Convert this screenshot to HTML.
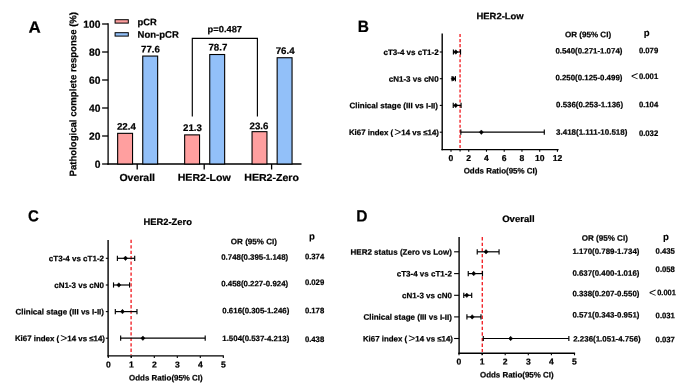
<!DOCTYPE html>
<html lang="en">
<head>
<meta charset="utf-8">
<title>Pathological complete response and odds ratios</title>
<style>
html,body{margin:0;padding:0;background:#fff;}
body{width:685px;height:386px;overflow:hidden;}
svg{display:block;}
svg text{font-family:"Liberation Sans",sans-serif;font-weight:bold;fill:#000;stroke:#000;stroke-width:0.22px;stroke-linejoin:round;text-rendering:geometricPrecision;}
</style>
</head>
<body>
<svg width="685" height="386" viewBox="0 0 685 386">
<rect x="0" y="0" width="685" height="386" fill="#fff"/>
<text x="28.4" y="32.8" transform="rotate(0.05 28.4 32.8)" font-size="16.4" textLength="12.31" lengthAdjust="spacingAndGlyphs">A</text>
<line x1="108.1" y1="23.35" x2="108.1" y2="164.65" stroke="#000" stroke-width="1.3"/>
<line x1="107.44999999999999" y1="164.0" x2="301.5" y2="164.0" stroke="#000" stroke-width="1.3"/>
<line x1="102.1" y1="164.0" x2="108.1" y2="164.0" stroke="#000" stroke-width="1.3"/>
<text x="100.4" y="167.7" transform="rotate(0.05 100.4 167.7)" font-size="10.3" text-anchor="end">0</text>
<line x1="102.1" y1="136.0" x2="108.1" y2="136.0" stroke="#000" stroke-width="1.3"/>
<text x="100.4" y="139.7" transform="rotate(0.05 100.4 139.7)" font-size="10.3" text-anchor="end">20</text>
<line x1="102.1" y1="108.0" x2="108.1" y2="108.0" stroke="#000" stroke-width="1.3"/>
<text x="100.4" y="111.7" transform="rotate(0.05 100.4 111.7)" font-size="10.3" text-anchor="end">40</text>
<line x1="102.1" y1="80.0" x2="108.1" y2="80.0" stroke="#000" stroke-width="1.3"/>
<text x="100.4" y="83.7" transform="rotate(0.05 100.4 83.7)" font-size="10.3" text-anchor="end">60</text>
<line x1="102.1" y1="52.0" x2="108.1" y2="52.0" stroke="#000" stroke-width="1.3"/>
<text x="100.4" y="55.7" transform="rotate(0.05 100.4 55.7)" font-size="10.3" text-anchor="end">80</text>
<line x1="102.1" y1="24.0" x2="108.1" y2="24.0" stroke="#000" stroke-width="1.3"/>
<text x="100.4" y="27.7" transform="rotate(0.05 100.4 27.7)" font-size="10.3" text-anchor="end">100</text>
<text transform="translate(76.3,94.2) rotate(-89.95)" font-size="9.5" text-anchor="middle" textLength="164.5" lengthAdjust="spacingAndGlyphs">Pathological complete response (%)</text>
<rect x="115.1" y="19.7" width="13.2" height="3.4" fill="#FF9F9F" stroke="#000" stroke-width="1"/>
<rect x="115.1" y="32.7" width="13.2" height="3.4" fill="#92C0F9" stroke="#000" stroke-width="1"/>
<text x="137.6" y="25.2" transform="rotate(0.05 137.6 25.2)" font-size="9.4">pCR</text>
<text x="137.6" y="37.8" transform="rotate(0.05 137.6 37.8)" font-size="9.5">Non-pCR</text>
<line x1="137.2" y1="164.0" x2="137.2" y2="169.5" stroke="#000" stroke-width="1.3"/>
<text x="137.2" y="180.9" transform="rotate(0.05 137.2 180.9)" font-size="10.2" text-anchor="middle" textLength="35.6" lengthAdjust="spacingAndGlyphs">Overall</text>
<rect x="117.65" y="133.34" width="14.9" height="30.66" fill="#FF9F9F" stroke="#000" stroke-width="1.1"/>
<text x="126.4" y="129.7" transform="rotate(0.05 126.4 129.7)" font-size="9.6" text-anchor="middle" textLength="18.9" lengthAdjust="spacingAndGlyphs">22.4</text>
<rect x="142.75" y="56.06" width="14.9" height="107.94" fill="#92C0F9" stroke="#000" stroke-width="1.1"/>
<text x="150.5" y="52.5" transform="rotate(0.05 150.5 52.5)" font-size="9.6" text-anchor="middle" textLength="18.9" lengthAdjust="spacingAndGlyphs">77.6</text>
<line x1="204.2" y1="164.0" x2="204.2" y2="169.5" stroke="#000" stroke-width="1.3"/>
<text x="204.2" y="180.9" transform="rotate(0.05 204.2 180.9)" font-size="10.2" text-anchor="middle" textLength="53.0" lengthAdjust="spacingAndGlyphs">HER2-Low</text>
<rect x="184.65" y="134.88" width="14.9" height="29.12" fill="#FF9F9F" stroke="#000" stroke-width="1.1"/>
<text x="192.5" y="130.9" transform="rotate(0.05 192.5 130.9)" font-size="9.6" text-anchor="middle" textLength="18.9" lengthAdjust="spacingAndGlyphs">21.3</text>
<rect x="209.75" y="54.52" width="14.9" height="109.48" fill="#92C0F9" stroke="#000" stroke-width="1.1"/>
<text x="217.9" y="50.4" transform="rotate(0.05 217.9 50.4)" font-size="9.6" text-anchor="middle" textLength="18.9" lengthAdjust="spacingAndGlyphs">78.7</text>
<line x1="271.6" y1="164.0" x2="271.6" y2="169.5" stroke="#000" stroke-width="1.3"/>
<text x="271.6" y="180.9" transform="rotate(0.05 271.6 180.9)" font-size="10.2" text-anchor="middle" textLength="54.6" lengthAdjust="spacingAndGlyphs">HER2-Zero</text>
<rect x="252.05" y="131.66" width="14.9" height="32.34" fill="#FF9F9F" stroke="#000" stroke-width="1.1"/>
<text x="259.0" y="129.2" transform="rotate(0.05 259.0 129.2)" font-size="9.6" text-anchor="middle" textLength="18.9" lengthAdjust="spacingAndGlyphs">23.6</text>
<rect x="277.15" y="57.74" width="14.9" height="106.26" fill="#92C0F9" stroke="#000" stroke-width="1.1"/>
<text x="285.1" y="53.9" transform="rotate(0.05 285.1 53.9)" font-size="9.6" text-anchor="middle" textLength="18.9" lengthAdjust="spacingAndGlyphs">76.4</text>
<path d="M192.3 116.6 V38.3 H257.4 V116.6" fill="none" stroke="#000" stroke-width="1.15"/>
<text x="224.8" y="32.2" transform="rotate(0.05 224.8 32.2)" font-size="9" text-anchor="middle" textLength="34.4" lengthAdjust="spacingAndGlyphs">p=0.487</text>
<text x="357.7" y="32.1" transform="rotate(0.05 357.7 32.1)" font-size="16.4" textLength="11.19" lengthAdjust="spacingAndGlyphs">B</text>
<text x="500.1" y="19.2" transform="rotate(0.05 500.1 19.2)" font-size="9.3" text-anchor="middle" textLength="47.2" lengthAdjust="spacingAndGlyphs">HER2-Low</text>
<line x1="442.2" y1="33.4" x2="442.2" y2="150.29999999999998" stroke="#000" stroke-width="1.4"/>
<line x1="441.5" y1="149.6" x2="558.6" y2="149.6" stroke="#000" stroke-width="1.4"/>
<line x1="451.0" y1="149.6" x2="451.0" y2="151.7" stroke="#000" stroke-width="1.1"/>
<text x="451.0" y="161.0" transform="rotate(0.05 451.0 161.0)" font-size="8.6" text-anchor="middle">0</text>
<line x1="468.74" y1="149.6" x2="468.74" y2="151.7" stroke="#000" stroke-width="1.1"/>
<text x="468.74" y="161.0" transform="rotate(0.05 468.74 161.0)" font-size="8.6" text-anchor="middle">2</text>
<line x1="486.48" y1="149.6" x2="486.48" y2="151.7" stroke="#000" stroke-width="1.1"/>
<text x="486.48" y="161.0" transform="rotate(0.05 486.48 161.0)" font-size="8.6" text-anchor="middle">4</text>
<line x1="504.22" y1="149.6" x2="504.22" y2="151.7" stroke="#000" stroke-width="1.1"/>
<text x="504.22" y="161.0" transform="rotate(0.05 504.22 161.0)" font-size="8.6" text-anchor="middle">6</text>
<line x1="521.96" y1="149.6" x2="521.96" y2="151.7" stroke="#000" stroke-width="1.1"/>
<text x="521.96" y="161.0" transform="rotate(0.05 521.96 161.0)" font-size="8.6" text-anchor="middle">8</text>
<line x1="539.7" y1="149.6" x2="539.7" y2="151.7" stroke="#000" stroke-width="1.1"/>
<text x="539.7" y="161.0" transform="rotate(0.05 539.7 161.0)" font-size="8.6" text-anchor="middle">10</text>
<line x1="557.44" y1="149.6" x2="557.44" y2="151.7" stroke="#000" stroke-width="1.1"/>
<text x="557.44" y="161.0" transform="rotate(0.05 557.44 161.0)" font-size="8.6" text-anchor="middle">12</text>
<line x1="460.07" y1="149.6" x2="460.07" y2="151.4" stroke="#000" stroke-width="1.1"/>
<text x="500.5" y="173.6" transform="rotate(0.05 500.5 173.6)" font-size="8" text-anchor="middle" textLength="73.6" lengthAdjust="spacingAndGlyphs">Odds Ratio(95% CI)</text>
<line x1="460.07" y1="34.0" x2="460.07" y2="148.4" stroke="#F2262B" stroke-width="1.4" stroke-dasharray="3.1 1.94"/>
<text x="588.0" y="37.2" transform="rotate(0.05 588.0 37.2)" font-size="8" text-anchor="middle" textLength="46.2" lengthAdjust="spacingAndGlyphs">OR (95% CI)</text>
<text x="646.7" y="36.1" transform="rotate(0.05 646.7 36.1)" font-size="9.6" text-anchor="middle" style="stroke-width:0.1px">p</text>
<line x1="439.8" y1="52.0" x2="442.2" y2="52.0" stroke="#000" stroke-width="1.1"/>
<text x="438.6" y="55.0" transform="rotate(0.05 438.6 55.0)" font-size="8.0" text-anchor="end">cT3-4 vs cT1-2</text>
<line x1="453.4" y1="52.0" x2="460.53" y2="52.0" stroke="#000" stroke-width="1.2"/>
<line x1="453.4" y1="49.4" x2="453.4" y2="54.6" stroke="#000" stroke-width="1.15"/>
<line x1="460.53" y1="49.4" x2="460.53" y2="54.6" stroke="#000" stroke-width="1.15"/>
<path d="M453.74 52.0 L455.79 49.75 L457.84 52.0 L455.79 54.25 Z" fill="#000" stroke="#000" stroke-width="0.5" stroke-linejoin="round"/>
<text x="555.4" y="53.4" transform="rotate(0.05 555.4 53.4)" font-size="7.8" textLength="67" lengthAdjust="spacingAndGlyphs" style="stroke-width:0.2px">0.540(0.271-1.074)</text>
<text x="638.9" y="53.2" transform="rotate(0.05 638.9 53.2)" font-size="8.0" textLength="19.3" lengthAdjust="spacingAndGlyphs">0.079</text>
<line x1="439.8" y1="78.7" x2="442.2" y2="78.7" stroke="#000" stroke-width="1.1"/>
<text x="438.6" y="81.7" transform="rotate(0.05 438.6 81.7)" font-size="8.0" text-anchor="end">cN1-3 vs cN0</text>
<line x1="452.11" y1="78.7" x2="455.43" y2="78.7" stroke="#000" stroke-width="1.2"/>
<line x1="452.11" y1="76.10000000000001" x2="452.11" y2="81.3" stroke="#000" stroke-width="1.15"/>
<line x1="455.43" y1="76.10000000000001" x2="455.43" y2="81.3" stroke="#000" stroke-width="1.15"/>
<path d="M451.17 78.7 L453.22 76.45 L455.27 78.7 L453.22 80.95 Z" fill="#000" stroke="#000" stroke-width="0.5" stroke-linejoin="round"/>
<text x="555.4" y="80.2" transform="rotate(0.05 555.4 80.2)" font-size="7.8" textLength="67" lengthAdjust="spacingAndGlyphs" style="stroke-width:0.2px">0.250(0.125-0.499)</text>
<text x="631.0" y="80.3" transform="rotate(0.05 631.0 80.3)" font-size="12.4" style="font-weight:normal;stroke-width:0">&lt;</text>
<text x="638.9" y="79.0" transform="rotate(0.05 638.9 79.0)" font-size="8.0" textLength="19.3" lengthAdjust="spacingAndGlyphs">0.001</text>
<line x1="439.8" y1="105.4" x2="442.2" y2="105.4" stroke="#000" stroke-width="1.1"/>
<text x="438.0" y="108.4" transform="rotate(0.05 438.0 108.4)" font-size="8.0" text-anchor="end">Clinical stage (III vs I-II)</text>
<line x1="453.24" y1="105.4" x2="461.08" y2="105.4" stroke="#000" stroke-width="1.2"/>
<line x1="453.24" y1="102.80000000000001" x2="453.24" y2="108.0" stroke="#000" stroke-width="1.15"/>
<line x1="461.08" y1="102.80000000000001" x2="461.08" y2="108.0" stroke="#000" stroke-width="1.15"/>
<path d="M453.70 105.4 L455.75 103.15 L457.80 105.4 L455.75 107.65 Z" fill="#000" stroke="#000" stroke-width="0.5" stroke-linejoin="round"/>
<text x="556.1" y="107.3" transform="rotate(0.05 556.1 107.3)" font-size="7.8" textLength="67" lengthAdjust="spacingAndGlyphs" style="stroke-width:0.2px">0.536(0.253-1.136)</text>
<text x="638.9" y="107.3" transform="rotate(0.05 638.9 107.3)" font-size="8.0" textLength="19.3" lengthAdjust="spacingAndGlyphs">0.104</text>
<line x1="439.8" y1="132.2" x2="442.2" y2="132.2" stroke="#000" stroke-width="1.1"/>
<text x="439.0" y="135.2" transform="rotate(0.05 439.0 135.2)" font-size="7.9" text-anchor="end">Ki67 index (<tspan font-weight="normal" font-size="12" dx="1.0" dy="0.8" stroke-width="0">&gt;</tspan><tspan dx="0.1" dy="-0.8">14 vs ≤14)</tspan></text>
<line x1="460.85" y1="132.2" x2="544.29" y2="132.2" stroke="#000" stroke-width="1.2"/>
<line x1="460.85" y1="129.6" x2="460.85" y2="134.79999999999998" stroke="#000" stroke-width="1.15"/>
<line x1="544.29" y1="129.6" x2="544.29" y2="134.79999999999998" stroke="#000" stroke-width="1.15"/>
<path d="M479.27 132.2 L481.32 129.95 L483.37 132.2 L481.32 134.45 Z" fill="#000" stroke="#000" stroke-width="0.5" stroke-linejoin="round"/>
<text x="556.1" y="134.8" transform="rotate(0.05 556.1 134.8)" font-size="7.8" textLength="71.3" lengthAdjust="spacingAndGlyphs" style="stroke-width:0.2px">3.418(1.111-10.518)</text>
<text x="638.9" y="136.0" transform="rotate(0.05 638.9 136.0)" font-size="8.0" textLength="19.3" lengthAdjust="spacingAndGlyphs">0.032</text>
<text x="28.1" y="221.2" transform="rotate(0.05 28.1 221.2)" font-size="15.9" textLength="10.85" lengthAdjust="spacingAndGlyphs">C</text>
<text x="167.7" y="225.0" transform="rotate(0.05 167.7 225.0)" font-size="9.3" text-anchor="middle" textLength="48.4" lengthAdjust="spacingAndGlyphs">HER2-Zero</text>
<line x1="108.1" y1="240.0" x2="108.1" y2="356.59999999999997" stroke="#000" stroke-width="1.4"/>
<line x1="107.39999999999999" y1="355.9" x2="223.9" y2="355.9" stroke="#000" stroke-width="1.4"/>
<line x1="108.3" y1="355.9" x2="108.3" y2="358.0" stroke="#000" stroke-width="1.1"/>
<text x="108.3" y="367.4" transform="rotate(0.05 108.3 367.4)" font-size="8.6" text-anchor="middle">0</text>
<line x1="131.3" y1="355.9" x2="131.3" y2="358.0" stroke="#000" stroke-width="1.1"/>
<text x="131.3" y="367.4" transform="rotate(0.05 131.3 367.4)" font-size="8.6" text-anchor="middle">1</text>
<line x1="154.3" y1="355.9" x2="154.3" y2="358.0" stroke="#000" stroke-width="1.1"/>
<text x="154.3" y="367.4" transform="rotate(0.05 154.3 367.4)" font-size="8.6" text-anchor="middle">2</text>
<line x1="177.3" y1="355.9" x2="177.3" y2="358.0" stroke="#000" stroke-width="1.1"/>
<text x="177.3" y="367.4" transform="rotate(0.05 177.3 367.4)" font-size="8.6" text-anchor="middle">3</text>
<line x1="200.3" y1="355.9" x2="200.3" y2="358.0" stroke="#000" stroke-width="1.1"/>
<text x="200.3" y="367.4" transform="rotate(0.05 200.3 367.4)" font-size="8.6" text-anchor="middle">4</text>
<line x1="223.3" y1="355.9" x2="223.3" y2="358.0" stroke="#000" stroke-width="1.1"/>
<text x="223.3" y="367.4" transform="rotate(0.05 223.3 367.4)" font-size="8.6" text-anchor="middle">5</text>
<line x1="131.1" y1="355.9" x2="131.1" y2="357.7" stroke="#000" stroke-width="1.1"/>
<text x="165.9" y="380.6" transform="rotate(0.05 165.9 380.6)" font-size="8" text-anchor="middle" textLength="73.6" lengthAdjust="spacingAndGlyphs">Odds Ratio(95% CI)</text>
<line x1="131.1" y1="239.8" x2="131.1" y2="354.7" stroke="#F2262B" stroke-width="1.4" stroke-dasharray="3.3 2.14"/>
<text x="253.9" y="244.3" transform="rotate(0.05 253.9 244.3)" font-size="8" text-anchor="middle" textLength="46.2" lengthAdjust="spacingAndGlyphs">OR (95% CI)</text>
<text x="312.0" y="239.6" transform="rotate(0.05 312.0 239.6)" font-size="9.6" text-anchor="middle" style="stroke-width:0.1px">p</text>
<line x1="105.8" y1="258.3" x2="108.1" y2="258.3" stroke="#000" stroke-width="1.1"/>
<text x="104.0" y="261.3" transform="rotate(0.05 104.0 261.3)" font-size="8.0" text-anchor="end">cT3-4 vs cT1-2</text>
<line x1="117.38" y1="258.3" x2="134.7" y2="258.3" stroke="#000" stroke-width="1.2"/>
<line x1="117.38" y1="255.70000000000002" x2="117.38" y2="260.90000000000003" stroke="#000" stroke-width="1.15"/>
<line x1="134.7" y1="255.70000000000002" x2="134.7" y2="260.90000000000003" stroke="#000" stroke-width="1.15"/>
<path d="M123.45 258.3 L125.50 256.05 L127.55 258.3 L125.50 260.55 Z" fill="#000" stroke="#000" stroke-width="0.5" stroke-linejoin="round"/>
<text x="221.2" y="259.8" transform="rotate(0.05 221.2 259.8)" font-size="7.8" textLength="67" lengthAdjust="spacingAndGlyphs" style="stroke-width:0.2px">0.748(0.395-1.148)</text>
<text x="304.9" y="259.3" transform="rotate(0.05 304.9 259.3)" font-size="8.0" textLength="19.3" lengthAdjust="spacingAndGlyphs">0.374</text>
<line x1="105.8" y1="285.0" x2="108.1" y2="285.0" stroke="#000" stroke-width="1.1"/>
<text x="104.0" y="288.0" transform="rotate(0.05 104.0 288.0)" font-size="8.0" text-anchor="end">cN1-3 vs cN0</text>
<line x1="113.52" y1="285.0" x2="129.55" y2="285.0" stroke="#000" stroke-width="1.2"/>
<line x1="113.52" y1="282.4" x2="113.52" y2="287.6" stroke="#000" stroke-width="1.15"/>
<line x1="129.55" y1="282.4" x2="129.55" y2="287.6" stroke="#000" stroke-width="1.15"/>
<path d="M116.78 285.0 L118.83 282.75 L120.88 285.0 L118.83 287.25 Z" fill="#000" stroke="#000" stroke-width="0.5" stroke-linejoin="round"/>
<text x="221.2" y="286.3" transform="rotate(0.05 221.2 286.3)" font-size="7.8" textLength="67" lengthAdjust="spacingAndGlyphs" style="stroke-width:0.2px">0.458(0.227-0.924)</text>
<text x="304.9" y="284.9" transform="rotate(0.05 304.9 284.9)" font-size="8.0" textLength="19.3" lengthAdjust="spacingAndGlyphs">0.029</text>
<line x1="105.8" y1="311.6" x2="108.1" y2="311.6" stroke="#000" stroke-width="1.1"/>
<text x="104.0" y="314.6" transform="rotate(0.05 104.0 314.6)" font-size="8.0" text-anchor="end">Clinical stage (III vs I-II)</text>
<line x1="115.31" y1="311.6" x2="136.96" y2="311.6" stroke="#000" stroke-width="1.2"/>
<line x1="115.31" y1="309.0" x2="115.31" y2="314.20000000000005" stroke="#000" stroke-width="1.15"/>
<line x1="136.96" y1="309.0" x2="136.96" y2="314.20000000000005" stroke="#000" stroke-width="1.15"/>
<path d="M120.42 311.6 L122.47 309.35 L124.52 311.6 L122.47 313.85 Z" fill="#000" stroke="#000" stroke-width="0.5" stroke-linejoin="round"/>
<text x="222.3" y="313.2" transform="rotate(0.05 222.3 313.2)" font-size="7.8" textLength="67" lengthAdjust="spacingAndGlyphs" style="stroke-width:0.2px">0.616(0.305-1.246)</text>
<text x="304.9" y="313.2" transform="rotate(0.05 304.9 313.2)" font-size="8.0" textLength="19.3" lengthAdjust="spacingAndGlyphs">0.178</text>
<line x1="105.8" y1="338.2" x2="108.1" y2="338.2" stroke="#000" stroke-width="1.1"/>
<text x="105.0" y="341.2" transform="rotate(0.05 105.0 341.2)" font-size="7.9" text-anchor="end">Ki67 index (<tspan font-weight="normal" font-size="12" dx="1.0" dy="0.8" stroke-width="0">&gt;</tspan><tspan dx="0.1" dy="-0.8">14 vs ≤14)</tspan></text>
<line x1="120.65" y1="338.2" x2="205.2" y2="338.2" stroke="#000" stroke-width="1.2"/>
<line x1="120.65" y1="335.59999999999997" x2="120.65" y2="340.8" stroke="#000" stroke-width="1.15"/>
<line x1="205.2" y1="335.59999999999997" x2="205.2" y2="340.8" stroke="#000" stroke-width="1.15"/>
<path d="M140.84 338.2 L142.89 335.95 L144.94 338.2 L142.89 340.45 Z" fill="#000" stroke="#000" stroke-width="0.5" stroke-linejoin="round"/>
<text x="222.3" y="341.1" transform="rotate(0.05 222.3 341.1)" font-size="7.8" textLength="67" lengthAdjust="spacingAndGlyphs" style="stroke-width:0.2px">1.504(0.537-4.213)</text>
<text x="304.9" y="342.0" transform="rotate(0.05 304.9 342.0)" font-size="8.0" textLength="19.3" lengthAdjust="spacingAndGlyphs">0.438</text>
<text x="356.25" y="221.5" transform="rotate(0.05 356.25 221.5)" font-size="16.3" textLength="11.19" lengthAdjust="spacingAndGlyphs">D</text>
<text x="518.4" y="222.0" transform="rotate(0.05 518.4 222.0)" font-size="9.3" text-anchor="middle" textLength="32.4" lengthAdjust="spacingAndGlyphs">Overall</text>
<line x1="459.1" y1="237.0" x2="459.1" y2="353.9" stroke="#000" stroke-width="1.4"/>
<line x1="458.40000000000003" y1="353.2" x2="575.1" y2="353.2" stroke="#000" stroke-width="1.4"/>
<line x1="459.0" y1="353.2" x2="459.0" y2="355.3" stroke="#000" stroke-width="1.1"/>
<text x="459.0" y="364.5" transform="rotate(0.05 459.0 364.5)" font-size="8.6" text-anchor="middle">0</text>
<line x1="482.1" y1="353.2" x2="482.1" y2="355.3" stroke="#000" stroke-width="1.1"/>
<text x="482.1" y="364.5" transform="rotate(0.05 482.1 364.5)" font-size="8.6" text-anchor="middle">1</text>
<line x1="505.2" y1="353.2" x2="505.2" y2="355.3" stroke="#000" stroke-width="1.1"/>
<text x="505.2" y="364.5" transform="rotate(0.05 505.2 364.5)" font-size="8.6" text-anchor="middle">2</text>
<line x1="528.3" y1="353.2" x2="528.3" y2="355.3" stroke="#000" stroke-width="1.1"/>
<text x="528.3" y="364.5" transform="rotate(0.05 528.3 364.5)" font-size="8.6" text-anchor="middle">3</text>
<line x1="551.4" y1="353.2" x2="551.4" y2="355.3" stroke="#000" stroke-width="1.1"/>
<text x="551.4" y="364.5" transform="rotate(0.05 551.4 364.5)" font-size="8.6" text-anchor="middle">4</text>
<line x1="574.5" y1="353.2" x2="574.5" y2="355.3" stroke="#000" stroke-width="1.1"/>
<text x="574.5" y="364.5" transform="rotate(0.05 574.5 364.5)" font-size="8.6" text-anchor="middle">5</text>
<line x1="482.3" y1="353.2" x2="482.3" y2="355.0" stroke="#000" stroke-width="1.1"/>
<text x="516.8" y="377.6" transform="rotate(0.05 516.8 377.6)" font-size="8" text-anchor="middle" textLength="73.6" lengthAdjust="spacingAndGlyphs">Odds Ratio(95% CI)</text>
<line x1="482.3" y1="237.1" x2="482.3" y2="352.0" stroke="#F2262B" stroke-width="1.4" stroke-dasharray="3.4 2.2"/>
<text x="604.8" y="240.7" transform="rotate(0.05 604.8 240.7)" font-size="8" text-anchor="middle" textLength="46.2" lengthAdjust="spacingAndGlyphs">OR (95% CI)</text>
<text x="665.9" y="240.0" transform="rotate(0.05 665.9 240.0)" font-size="9.6" text-anchor="middle" style="stroke-width:0.1px">p</text>
<line x1="454.1" y1="251.8" x2="459.1" y2="251.8" stroke="#000" stroke-width="1.1"/>
<text x="451.9" y="254.8" transform="rotate(0.05 451.9 254.8)" font-size="8.0" text-anchor="end">HER2 status (Zero vs Low)</text>
<line x1="477.23" y1="251.8" x2="499.06" y2="251.8" stroke="#000" stroke-width="1.2"/>
<line x1="477.23" y1="249.20000000000002" x2="477.23" y2="254.4" stroke="#000" stroke-width="1.15"/>
<line x1="499.06" y1="249.20000000000002" x2="499.06" y2="254.4" stroke="#000" stroke-width="1.15"/>
<path d="M483.98 251.8 L486.03 249.55 L488.08 251.8 L486.03 254.05 Z" fill="#000" stroke="#000" stroke-width="0.5" stroke-linejoin="round"/>
<text x="572.4" y="254.0" transform="rotate(0.05 572.4 254.0)" font-size="7.8" textLength="67" lengthAdjust="spacingAndGlyphs" style="stroke-width:0.2px">1.170(0.789-1.734)</text>
<text x="655.6" y="253.7" transform="rotate(0.05 655.6 253.7)" font-size="8.0" textLength="19.3" lengthAdjust="spacingAndGlyphs">0.435</text>
<line x1="454.1" y1="273.6" x2="459.1" y2="273.6" stroke="#000" stroke-width="1.1"/>
<text x="451.9" y="276.6" transform="rotate(0.05 451.9 276.6)" font-size="8.0" text-anchor="end">cT3-4 vs cT1-2</text>
<line x1="468.24" y1="273.6" x2="482.47" y2="273.6" stroke="#000" stroke-width="1.2"/>
<line x1="468.24" y1="271.0" x2="468.24" y2="276.20000000000005" stroke="#000" stroke-width="1.15"/>
<line x1="482.47" y1="271.0" x2="482.47" y2="276.20000000000005" stroke="#000" stroke-width="1.15"/>
<path d="M471.66 273.6 L473.71 271.35 L475.76 273.6 L473.71 275.85 Z" fill="#000" stroke="#000" stroke-width="0.5" stroke-linejoin="round"/>
<text x="572.4" y="275.8" transform="rotate(0.05 572.4 275.8)" font-size="7.8" textLength="67" lengthAdjust="spacingAndGlyphs" style="stroke-width:0.2px">0.637(0.400-1.016)</text>
<text x="655.6" y="272.0" transform="rotate(0.05 655.6 272.0)" font-size="8.0" textLength="19.3" lengthAdjust="spacingAndGlyphs">0.058</text>
<line x1="454.1" y1="295.3" x2="459.1" y2="295.3" stroke="#000" stroke-width="1.1"/>
<text x="451.9" y="298.3" transform="rotate(0.05 451.9 298.3)" font-size="8.0" text-anchor="end">cN1-3 vs cN0</text>
<line x1="463.78" y1="295.3" x2="471.7" y2="295.3" stroke="#000" stroke-width="1.2"/>
<line x1="463.78" y1="292.7" x2="463.78" y2="297.90000000000003" stroke="#000" stroke-width="1.15"/>
<line x1="471.7" y1="292.7" x2="471.7" y2="297.90000000000003" stroke="#000" stroke-width="1.15"/>
<path d="M464.76 295.3 L466.81 293.05 L468.86 295.3 L466.81 297.55 Z" fill="#000" stroke="#000" stroke-width="0.5" stroke-linejoin="round"/>
<text x="572.4" y="296.2" transform="rotate(0.05 572.4 296.2)" font-size="7.8" textLength="67" lengthAdjust="spacingAndGlyphs" style="stroke-width:0.2px">0.338(0.207-0.550)</text>
<text x="649.0" y="296.7" transform="rotate(0.05 649.0 296.7)" font-size="12.4" style="font-weight:normal;stroke-width:0">&lt;</text>
<text x="657.2" y="295.2" transform="rotate(0.05 657.2 295.2)" font-size="8.0" textLength="18.6" lengthAdjust="spacingAndGlyphs">0.001</text>
<line x1="454.1" y1="316.9" x2="459.1" y2="316.9" stroke="#000" stroke-width="1.1"/>
<text x="451.9" y="319.9" transform="rotate(0.05 451.9 319.9)" font-size="8.0" text-anchor="end">Clinical stage (III vs I-II)</text>
<line x1="466.92" y1="316.9" x2="480.97" y2="316.9" stroke="#000" stroke-width="1.2"/>
<line x1="466.92" y1="314.29999999999995" x2="466.92" y2="319.5" stroke="#000" stroke-width="1.15"/>
<line x1="480.97" y1="314.29999999999995" x2="480.97" y2="319.5" stroke="#000" stroke-width="1.15"/>
<path d="M470.14 316.9 L472.19 314.65 L474.24 316.9 L472.19 319.15 Z" fill="#000" stroke="#000" stroke-width="0.5" stroke-linejoin="round"/>
<text x="572.4" y="317.5" transform="rotate(0.05 572.4 317.5)" font-size="7.8" textLength="67" lengthAdjust="spacingAndGlyphs" style="stroke-width:0.2px">0.571(0.343-0.951)</text>
<text x="655.6" y="318.3" transform="rotate(0.05 655.6 318.3)" font-size="8.0" textLength="19.3" lengthAdjust="spacingAndGlyphs">0.031</text>
<line x1="454.1" y1="338.5" x2="459.1" y2="338.5" stroke="#000" stroke-width="1.1"/>
<text x="453.0" y="341.5" transform="rotate(0.05 453.0 341.5)" font-size="7.9" text-anchor="end">Ki67 index (<tspan font-weight="normal" font-size="12" dx="1.0" dy="0.8" stroke-width="0">&gt;</tspan><tspan dx="0.1" dy="-0.8">14 vs ≤14)</tspan></text>
<line x1="483.28" y1="338.5" x2="568.86" y2="338.5" stroke="#000" stroke-width="1.2"/>
<line x1="483.28" y1="335.9" x2="483.28" y2="341.1" stroke="#000" stroke-width="1.15"/>
<line x1="568.86" y1="335.9" x2="568.86" y2="341.1" stroke="#000" stroke-width="1.15"/>
<path d="M508.60 338.5 L510.65 336.25 L512.70 338.5 L510.65 340.75 Z" fill="#000" stroke="#000" stroke-width="0.5" stroke-linejoin="round"/>
<text x="573.2" y="341.4" transform="rotate(0.05 573.2 341.4)" font-size="7.8" textLength="67.5" lengthAdjust="spacingAndGlyphs" style="stroke-width:0.2px">2.236(1.051-4.756)</text>
<text x="655.6" y="342.2" transform="rotate(0.05 655.6 342.2)" font-size="8.0" textLength="19.3" lengthAdjust="spacingAndGlyphs">0.037</text>
</svg>
</body>
</html>
